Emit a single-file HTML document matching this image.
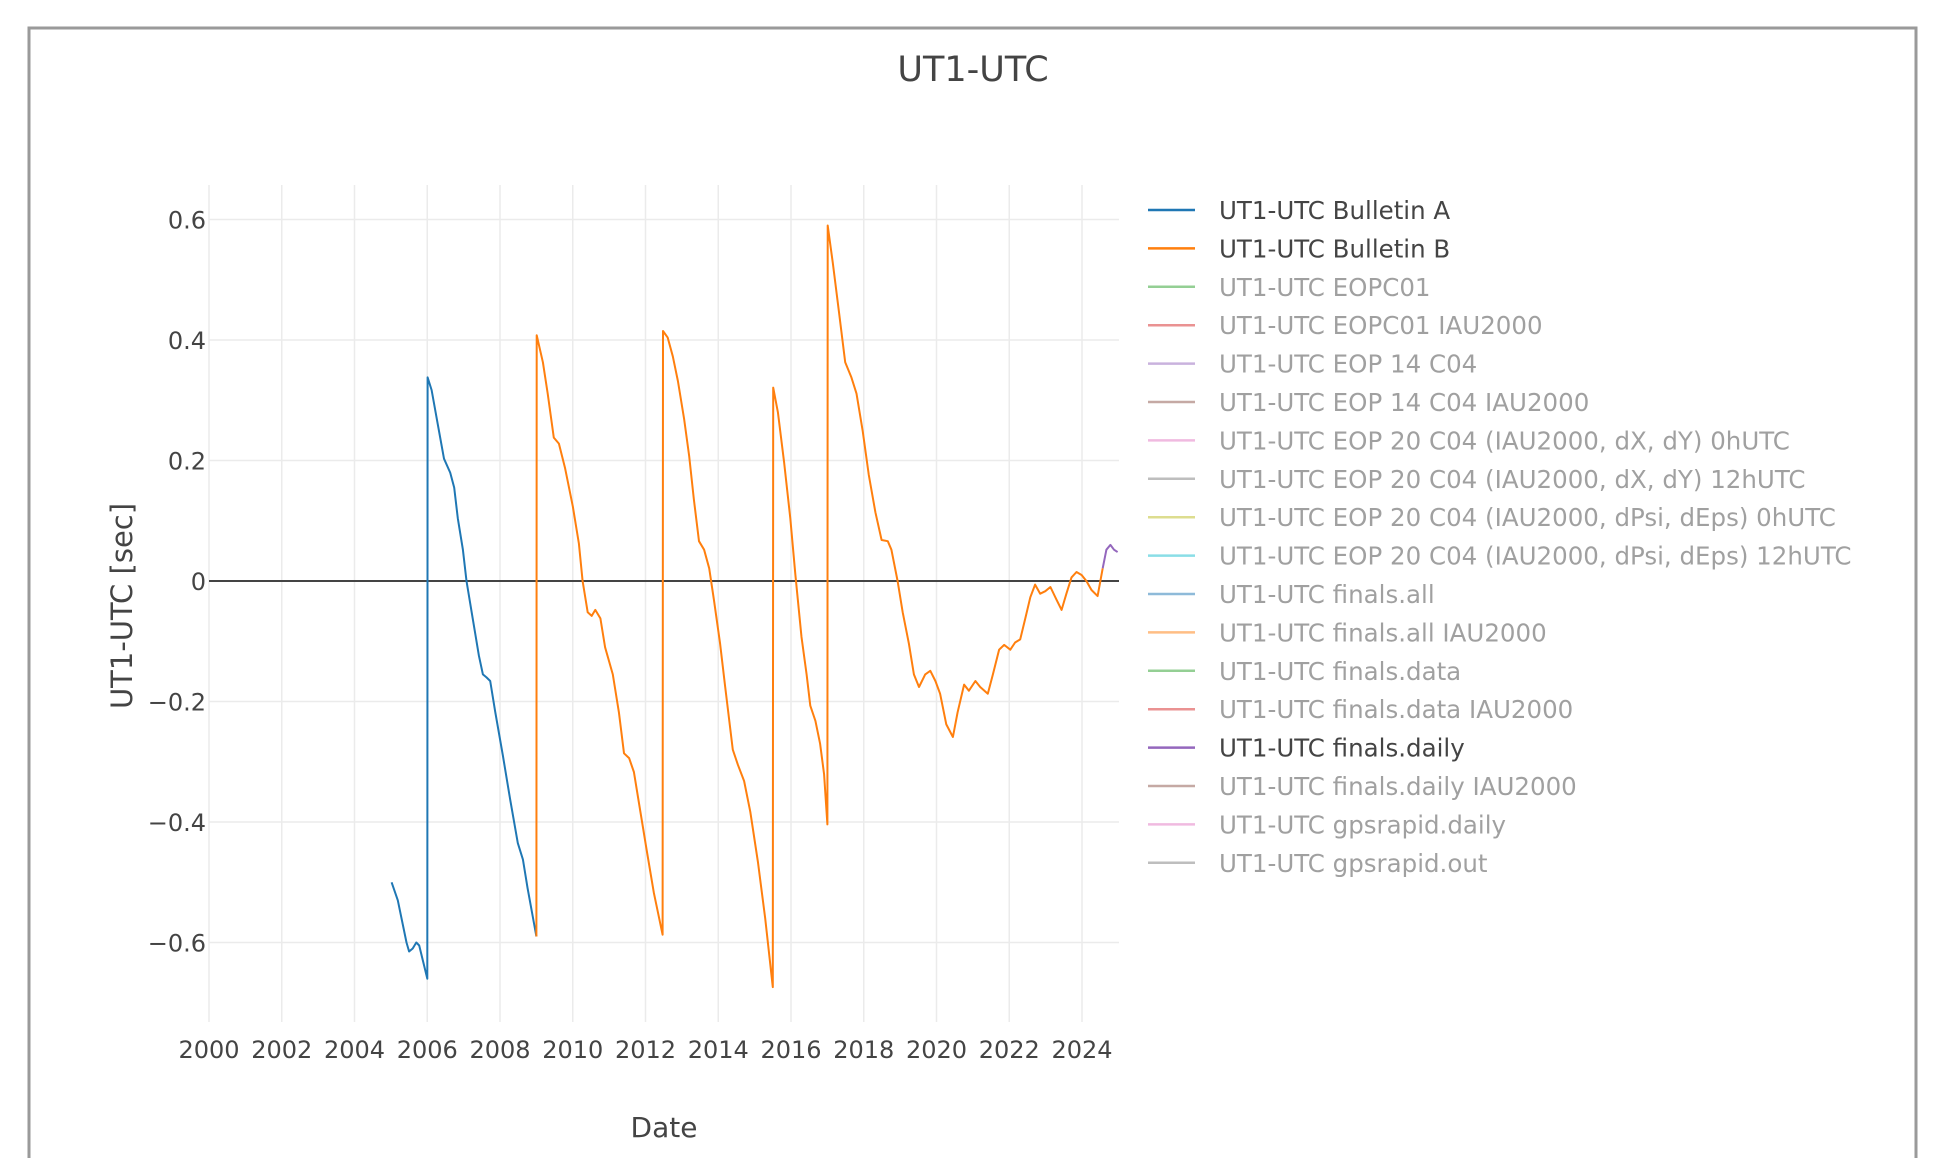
<!DOCTYPE html>
<html><head><meta charset="utf-8"><style>
html,body{margin:0;padding:0;background:#fff;}
body{width:1938px;height:1158px;overflow:hidden;position:relative;}
svg text{font-family:"DejaVu Sans","Liberation Sans",sans-serif;}
</style></head><body>
<svg id="chart" width="1938" height="1158" xmlns="http://www.w3.org/2000/svg">
<rect x="29" y="28" width="1887" height="1140" fill="#fff" stroke="#9a9a9a" stroke-width="3"/>
<text x="973" y="81" font-size="35" fill="#444" text-anchor="middle">UT1-UTC</text>
<g id="grid"></g>
<g id="series"></g>
<g id="axes"></g>
<text x="664" y="1137" font-size="28" fill="#444" text-anchor="middle">Date</text>
<text transform="translate(132,606) rotate(-90)" font-size="29" fill="#444" text-anchor="middle">UT1-UTC [sec]</text>
<g id="legend"></g>
</svg>
<script>
const xTicks=[2000,2002,2004,2006,2008,2010,2012,2014,2016,2018,2020,2022,2024];
const yTicks=[-0.6,-0.4,-0.2,0,0.2,0.4,0.6];
const yTickLabels=["\u22120.6","\u22120.4","\u22120.2","0","0.2","0.4","0.6"];
const bulletinAYears=[2005.02,2005.19,2005.43,2005.5,2005.6,2005.7,2005.78,2005.88,2006.0,2006.01,2006.12,2006.29,2006.46,2006.63,2006.74,2006.84,2006.98,2007.08,2007.25,2007.42,2007.53,2007.63,2007.73,2007.87,2008.08,2008.28,2008.49,2008.63,2008.76,2009.0];
const bulletinAValues=[-0.50,-0.53,-0.60,-0.615,-0.61,-0.60,-0.605,-0.63,-0.66,0.338,0.317,0.26,0.203,0.18,0.155,0.104,0.052,0,-0.062,-0.124,-0.155,-0.16,-0.166,-0.218,-0.29,-0.363,-0.435,-0.462,-0.51,-0.59];
const bulletinBYears=[2009.0,2009.01,2009.18,2009.31,2009.48,2009.62,2009.79,2010.0,2010.17,2010.27,2010.41,2010.52,2010.62,2010.76,2010.89,2011.10,2011.27,2011.41,2011.55,2011.68,2011.86,2012.03,2012.23,2012.47,2012.48,2012.61,2012.75,2012.89,2013.06,2013.2,2013.33,2013.47,2013.61,2013.75,2013.88,2014.05,2014.19,2014.4,2014.54,2014.71,2014.88,2015.09,2015.29,2015.5,2015.51,2015.64,2015.81,2015.98,2016.12,2016.29,2016.43,2016.53,2016.67,2016.8,2016.91,2017.0,2017.01,2017.15,2017.32,2017.49,2017.66,2017.8,2017.97,2018.14,2018.32,2018.49,2018.66,2018.76,2018.93,2019.07,2019.24,2019.38,2019.52,2019.69,2019.83,2019.97,2020.1,2020.27,2020.45,2020.58,2020.76,2020.89,2021.07,2021.2,2021.41,2021.55,2021.72,2021.86,2022.03,2022.16,2022.3,2022.44,2022.58,2022.71,2022.85,2022.99,2023.13,2023.3,2023.44,2023.57,2023.71,2023.85,2023.99,2024.12,2024.26,2024.43,2024.57];
const bulletinBValues=[-0.59,0.408,0.363,0.311,0.238,0.228,0.187,0.124,0.062,0,-0.052,-0.058,-0.048,-0.062,-0.11,-0.155,-0.218,-0.286,-0.294,-0.317,-0.383,-0.446,-0.518,-0.587,0.415,0.404,0.373,0.332,0.269,0.207,0.135,0.066,0.052,0.021,-0.031,-0.104,-0.176,-0.28,-0.305,-0.332,-0.383,-0.466,-0.56,-0.674,0.321,0.28,0.197,0.104,0.01,-0.093,-0.155,-0.207,-0.232,-0.27,-0.321,-0.404,0.59,0.528,0.446,0.363,0.338,0.311,0.249,0.176,0.114,0.068,0.066,0.052,0,-0.052,-0.104,-0.155,-0.176,-0.155,-0.149,-0.166,-0.187,-0.238,-0.259,-0.218,-0.172,-0.182,-0.166,-0.176,-0.187,-0.155,-0.114,-0.106,-0.114,-0.102,-0.097,-0.062,-0.027,-0.006,-0.021,-0.017,-0.01,-0.031,-0.048,-0.021,0.006,0.015,0.01,0,-0.015,-0.025,0.021];
const dailyYears=[2024.57,2024.67,2024.78,2024.88,2024.98];
const dailyValues=[0.021,0.052,0.06,0.052,0.048];
const legendNames=["UT1-UTC Bulletin A","UT1-UTC Bulletin B","UT1-UTC EOPC01","UT1-UTC EOPC01 IAU2000","UT1-UTC EOP 14 C04","UT1-UTC EOP 14 C04 IAU2000","UT1-UTC EOP 20 C04 (IAU2000, dX, dY) 0hUTC","UT1-UTC EOP 20 C04 (IAU2000, dX, dY) 12hUTC","UT1-UTC EOP 20 C04 (IAU2000, dPsi, dEps) 0hUTC","UT1-UTC EOP 20 C04 (IAU2000, dPsi, dEps) 12hUTC","UT1-UTC finals.all","UT1-UTC finals.all IAU2000","UT1-UTC finals.data","UT1-UTC finals.data IAU2000","UT1-UTC finals.daily","UT1-UTC finals.daily IAU2000","UT1-UTC gpsrapid.daily","UT1-UTC gpsrapid.out"];
const legendVisible=[1,1,0,0,0,0,0,0,0,0,0,0,0,0,1,0,0,0];

const NS="http://www.w3.org/2000/svg";
const palette=["#1f77b4","#ff7f0e","#2ca02c","#d62728","#9467bd","#8c564b","#e377c2","#7f7f7f","#bcbd22","#17becf"];
const plotL=209,plotR=1119,plotT=185,plotB=1022;
function xs(y){return 209+(y-2000)*36.375;}
function ys(v){return 581-v*602.5;}
function mk(tag,attrs,parent){const e=document.createElementNS(NS,tag);for(const k in attrs)e.setAttribute(k,attrs[k]);parent.appendChild(e);return e;}
const grid=document.getElementById('grid'),axes=document.getElementById('axes'),series=document.getElementById('series'),legend=document.getElementById('legend');
xTicks.forEach(t=>{
  const l=mk('line',{x1:xs(t),x2:xs(t),y1:plotT,y2:plotB,stroke:'#ebebeb','stroke-width':1.5},grid);
  
  
  const tx=mk('text',{x:xs(t),y:1058,'font-size':24,fill:'#444','text-anchor':'middle'},axes);
  tx.textContent=t;
  
  
});
yTicks.forEach((t,i)=>{
  if(t!==0){
    const l=mk('line',{x1:plotL,x2:plotR,y1:ys(t),y2:ys(t),stroke:'#ebebeb','stroke-width':1.5},grid);
    
    
  }
  const tx=mk('text',{x:206,y:ys(t)+9,'font-size':24,fill:'#444','text-anchor':'end'},axes);
  tx.textContent=yTickLabels[i];
  
  
});
const z=mk('line',{x1:plotL,x2:plotR,y1:ys(0),y2:ys(0),stroke:'#444','stroke-width':2},grid);


function path(xsArr,vs,color,name){
  const d=xsArr.map((y,i)=>(i?'L':'M')+xs(y).toFixed(1)+','+ys(vs[i]).toFixed(1)).join(' ');
  const p=mk('path',{d:d,fill:'none',stroke:color,'stroke-width':2,'stroke-linejoin':'round'},series);
  
  
}
path(bulletinAYears,bulletinAValues,palette[0],'bulletin-a-line');
path(bulletinBYears,bulletinBValues,palette[1],'bulletin-b-line');
path(dailyYears,dailyValues,palette[4],'finals-daily-line');
legendNames.forEach((n,i)=>{
  const y=210+i*38.4, vis=legendVisible[i];
  const g=mk('g',{opacity:vis?1:0.5},legend);
  
  
  mk('line',{x1:1148,x2:1195,y1:y,y2:y,stroke:palette[i%10],'stroke-width':2.5},g);
  const t=mk('text',{x:1219,y:y+9,'font-size':24.5,fill:'#444'},g);
  t.textContent=n;
});
</script>
</body></html>
